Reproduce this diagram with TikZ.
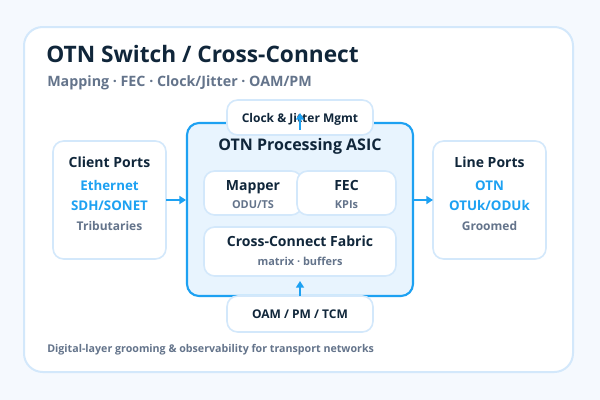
\documentclass[tikz,border=0pt]{standalone}
\usepackage{fontspec}
\setmainfont{Open Sans}
\usetikzlibrary{arrows.meta}
\definecolor{bg}{HTML}{F5F9FE}
\definecolor{cardb}{HTML}{D3E8FB}
\definecolor{dark}{HTML}{10263A}
\definecolor{greyt}{HTML}{64748B}
\definecolor{blu}{HTML}{1DA1F2}
\definecolor{asicf}{HTML}{E8F4FE}
\tikzset{
 box/.style={draw=cardb,line width=1.2pt,fill=white,rounded corners=8pt},
 ttl/.style={font=\bfseries\fontsize{10.5}{13}\selectfont,text=dark,anchor=base},
 sub/.style={font=\bfseries\fontsize{8.2}{9}\selectfont,text=greyt,anchor=base},
 bl/.style={font=\bfseries\fontsize{10}{12}\selectfont,text=blu,anchor=base},
 arr/.style={draw=blu,line width=1.6pt,-{Triangle[length=5pt,width=6pt]}}
}
\begin{document}
\begin{tikzpicture}[x=0.75pt,y=-0.75pt]
\useasboundingbox (0,0) rectangle (600,400);
\fill[bg] (0,0) rectangle (600,400);
\draw[draw=cardb,line width=1.5pt,fill=white,rounded corners=14pt] (24,27) rectangle (573,372);
\node[anchor=base west,font=\bfseries\fontsize{17}{19}\selectfont,text=dark,inner sep=0] (title) at (46,62) {OTN Switch / Cross-Connect};
\node[anchor=base west,font=\bfseries\fontsize{10.7}{12}\selectfont,text=greyt,inner sep=0] (subtitle) at (47,86) {Mapping · FEC · Clock/Jitter · OAM/PM};
% side boxes
\draw[box] (53,141) rectangle (166,259);
\node[inner sep=0] (cp) at (109.5,200) {};
\node[ttl] at (109.5,167) {Client Ports};
\node[bl] at (109.5,190) {Ethernet};
\node[bl] at (109.5,210) {SDH/SONET};
\node[sub,font=\bfseries\fontsize{9}{11}\selectfont] at (109.5,230) {Tributaries};
\draw[box] (433,141) rectangle (546,259);
\node[inner sep=0] (lp) at (489.5,200) {};
\node[ttl] at (489.5,167) {Line Ports};
\node[bl] at (489.5,190) {OTN};
\node[bl] at (489.5,210) {OTUk/ODUk};
\node[sub,font=\bfseries\fontsize{9}{11}\selectfont] at (489.5,230) {Groomed};
% ASIC
\draw[draw=blu,line width=1.6pt,fill=asicf,rounded corners=9pt] (187,123) rectangle (413,296);
\node[inner sep=0] (asicL) at (187,200) {};
\node[inner sep=0] (asicR) at (413,200) {};
\node[ttl,font=\bfseries\fontsize{12}{14}\selectfont] at (300,150) {OTN Processing ASIC};
\draw[box] (204,171) rectangle (302,215);
\draw[box] (297,171) rectangle (396,215);
\node[ttl] at (253,190) {Mapper};
\node[sub] at (253,208) {ODU/TS};
\node[ttl] at (346.5,190) {FEC};
\node[sub] at (346.5,208) {KPIs};
\draw[box] (204,227) rectangle (396,276);
\node[ttl] at (300,246) {Cross-Connect Fabric};
\node[sub] at (300,265) {matrix · buffers};
% clock & oam
\draw[box] (227,100) rectangle (373,135);
\node[ttl,font=\bfseries\fontsize{9}{10}\selectfont] at (300,122) {Clock \& Jitter Mgmt};
\draw[box] (227,296) rectangle (373,332);
\node[ttl,font=\bfseries\fontsize{9}{10}\selectfont] at (300,318.5) {OAM / PM / TCM};
\coordinate (ck0) at (300,130);
\coordinate (ck1) at (300,113);
\coordinate (oa0) at (300,296);
\coordinate (oa1) at (300,281);
\draw[arr] (ck0) -- (ck1);
\draw[arr] (oa0) -- (oa1);
\draw[arr] (cp.center -| 166,0) -- (asicL);
\draw[arr] (asicR) -- (lp.center -| 433,0);
\node[anchor=base west,font=\bfseries\fontsize{8}{9}\selectfont,text=greyt,inner sep=0] (foot) at (47,352) {Digital-layer grooming \& observability for transport networks};
\end{tikzpicture}
\end{document}
